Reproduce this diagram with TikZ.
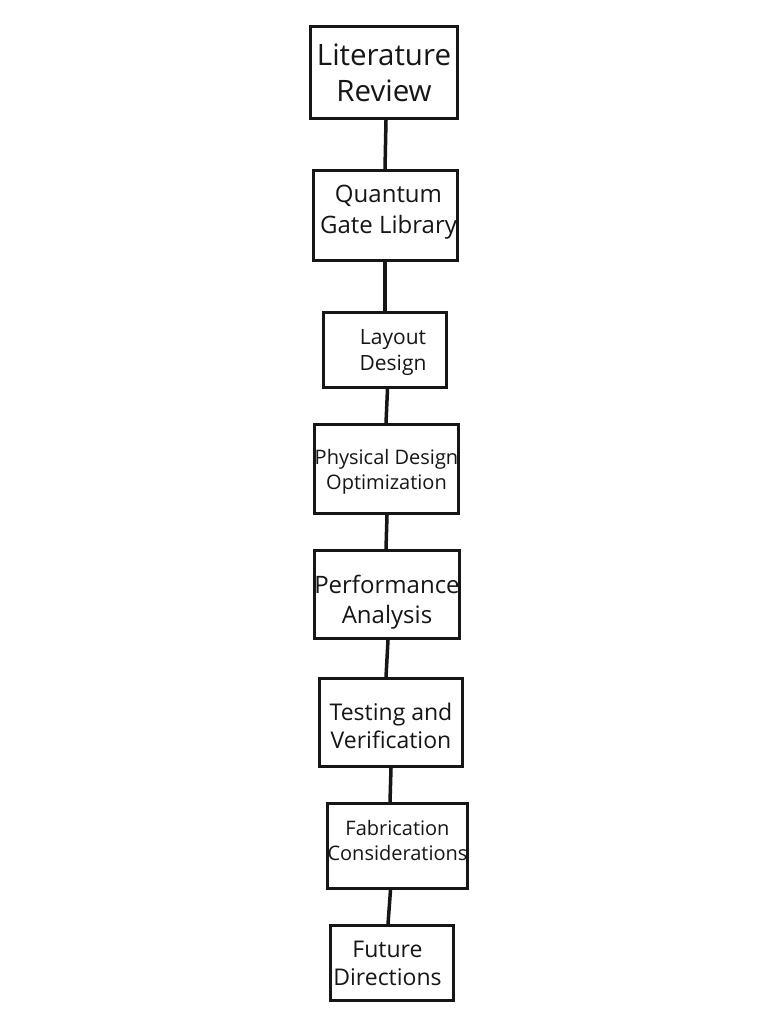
\documentclass[tikz,border=0pt]{standalone}
\usepackage{fontspec}
\setsansfont{Open Sans}
\usepackage{tikz}
\usetikzlibrary{positioning}
\definecolor{inkblack}{HTML}{161616}

\tikzset{stagebox/.style={fill=white, draw=inkblack, line width=3pt, align=center, inner sep=0pt, text=inkblack}}

\begin{document}
\begin{tikzpicture}[x=1pt, y=-1pt, link/.style={inkblack, line width=3.5pt}]
        \useasboundingbox (0,0) rectangle (768,1024);
        \node[stagebox, minimum width=147pt, minimum height=92pt, font=\sffamily\fontsize{29.5}{36}\selectfont] (litrev) at (384,72.5) {Literature\\Review};
        \node[stagebox, minimum width=144pt, minimum height=90pt, font=\sffamily\fontsize{24}{31}\selectfont, below=49pt of litrev, xshift=1.5pt] (gatelib) {\hspace*{6pt}Quantum\\\hspace*{6pt}Gate Library\rule[-13pt]{0pt}{0pt}};
        \node[stagebox, minimum width=123pt, minimum height=75pt, font=\sffamily\fontsize{21}{26}\selectfont, below=49pt of gatelib, xshift=-0.5pt] (layout) {\hspace*{16pt}\rule{0pt}{21pt}Layout\\\hspace*{16pt}Design};
        \node[stagebox, minimum width=142pt, minimum height=89pt, font=\sffamily\fontsize{20}{24.5}\selectfont, below=34pt of layout, xshift=1.5pt] (physopt) {\rule{0pt}{21pt}Physical Design\\Optimization};
        \node[stagebox, minimum width=143pt, minimum height=88pt, font=\sffamily\fontsize{24}{30}\selectfont, below=34pt of physopt, xshift=0.5pt] (perf) {\rule{0pt}{34pt}Performance\\Analysis};
        \node[stagebox, minimum width=143pt, minimum height=88pt, font=\sffamily\fontsize{23}{28}\selectfont, below=37pt of perf, xshift=4pt] (testver) {\rule{0pt}{23.5pt}Testing and\\Verification};
        \node[stagebox, minimum width=138pt, minimum height=85pt, font=\sffamily\fontsize{20}{25}\selectfont, below=34pt of testver, xshift=6.5pt] (fabcon) {Fabrication\\Considerations\rule[-11pt]{0pt}{0pt}};
        \node[stagebox, minimum width=123pt, minimum height=75pt, font=\sffamily\fontsize{23}{28}\selectfont, below=34pt of fabcon, xshift=-5.5pt] (future) {Future\hspace*{9pt}\\Directions\hspace*{9pt}};

        \draw[link] ([xshift=2pt]litrev.south) -- ([xshift=-0.5pt]gatelib.north);
        \draw[link] ([xshift=-0.5pt]gatelib.south) -- (layout.north);
        \draw[link] ([xshift=2.5pt]layout.south) -- ([xshift=-0.5pt]physopt.north);
        \draw[link] ([xshift=0.5pt]physopt.south) -- ([xshift=-1pt]perf.north);
        \draw[link] ([xshift=1pt]perf.south) -- ([xshift=-5pt]testver.north);
        \draw[link] (testver.south) -- ([xshift=-7.5pt]fabcon.north);
        \draw[link] ([xshift=-7pt]fabcon.south) -- ([xshift=-4pt]future.north);
    \end{tikzpicture}
\end{document}
